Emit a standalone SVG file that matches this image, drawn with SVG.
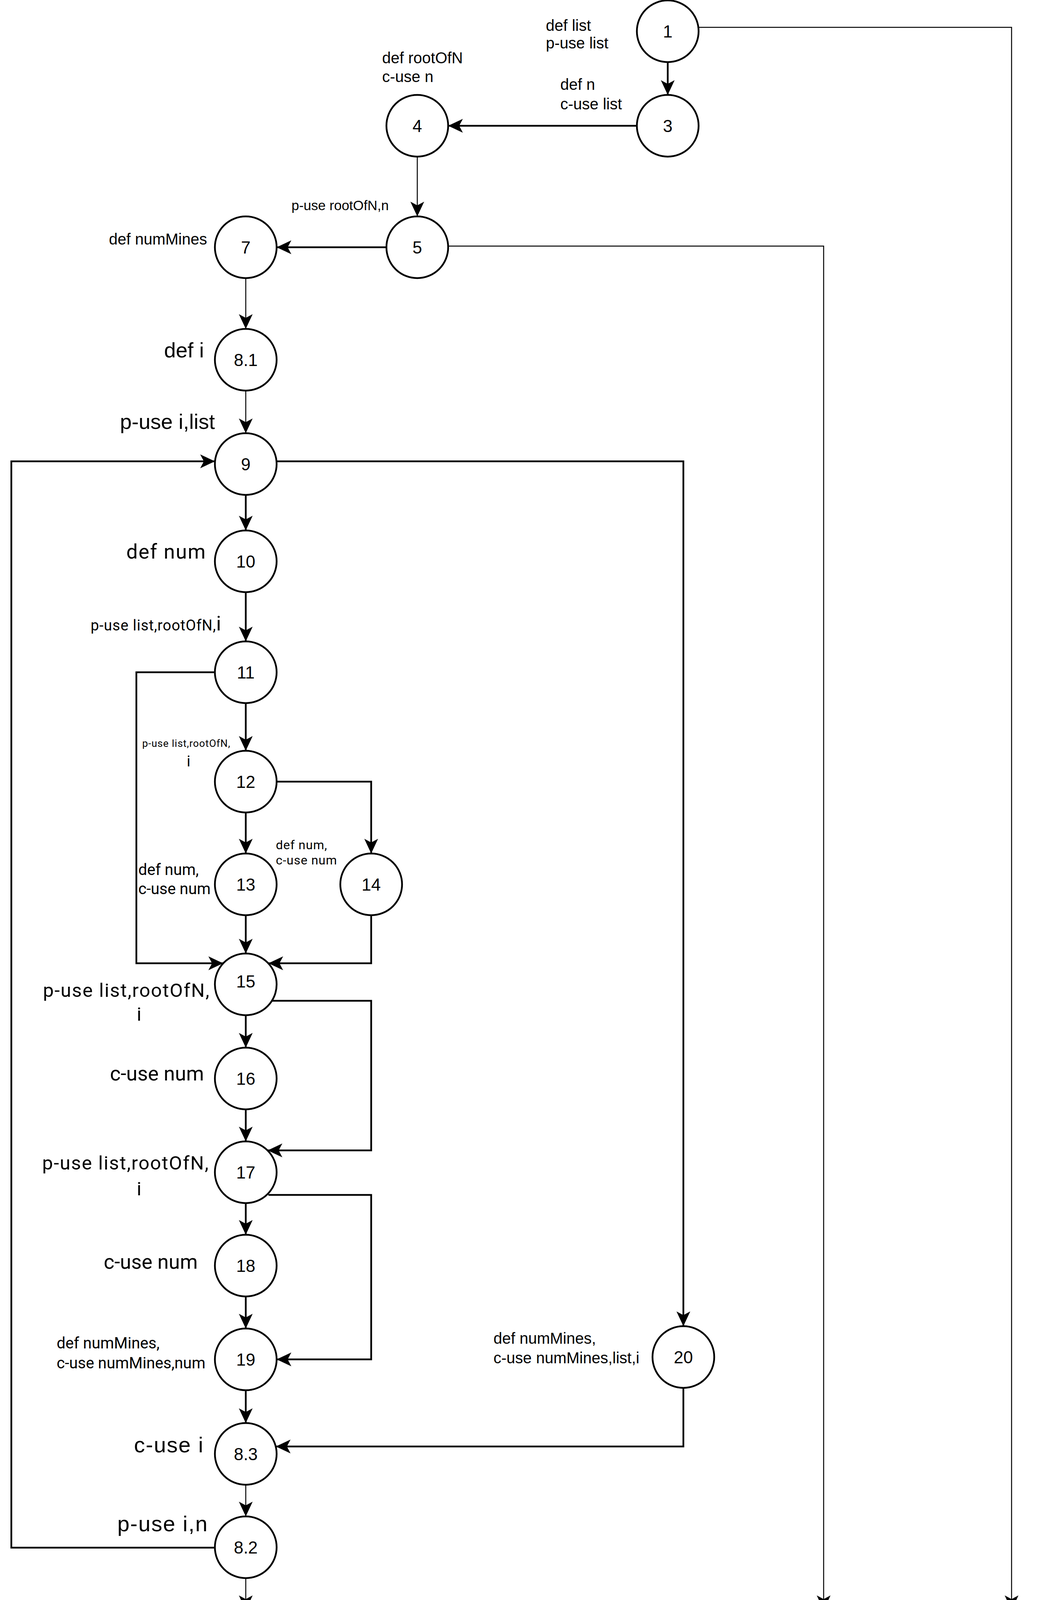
<svg xmlns="http://www.w3.org/2000/svg" width="2672" height="4524" viewBox="0 0 2672 4524">
<style>
.n{fill:#fff;stroke:#000;stroke-width:4.5}
.t{font-family:"Liberation Sans",Arial,sans-serif;font-size:44px;text-anchor:middle;dominant-baseline:central}
.e{fill:none;stroke:#000;stroke-width:4.5}
.th{stroke-width:2.5}
.l{font-family:"Liberation Sans",Arial,sans-serif;font-size:40px}
.r{font-family:Roboto,"Noto Sans",sans-serif}
</style>
<defs>
<marker id="a" markerUnits="userSpaceOnUse" markerWidth="40" markerHeight="40" viewBox="0 0 34 34" refX="32" refY="17" orient="auto">
<path d="M0,2 L32,17 L0,32 L8,17 z" fill="#000"/>
</marker>
</defs>
<rect width="2672" height="4524" fill="#fff"/>
<g id="connectors">
<path class="e" d="M1709,159 V243" marker-end="url(#a)"/>
<path class="e th" d="M1787,70 H2589 V4122" marker-end="url(#a)"/>
<path class="e" d="M1630,322 H1147" marker-end="url(#a)"/>
<path class="e th" d="M1068,401 V554" marker-end="url(#a)"/>
<path class="e" d="M989,633 H708" marker-end="url(#a)"/>
<path class="e th" d="M1147,630 H2108 V4122" marker-end="url(#a)"/>
<path class="e th" d="M629,712 V842" marker-end="url(#a)"/>
<path class="e th" d="M629,1000 V1109" marker-end="url(#a)"/>
<path class="e" d="M629,1267 V1358" marker-end="url(#a)"/>
<path class="e" d="M708,1181 H1749 V3395" marker-end="url(#a)"/>
<path class="e" d="M629,1516 V1642" marker-end="url(#a)"/>
<path class="e" d="M629,1800 V1922" marker-end="url(#a)"/>
<path class="e" d="M550,1721 H349 V2466 H571" marker-end="url(#a)"/>
<path class="e" d="M629,2080 V2185" marker-end="url(#a)"/>
<path class="e" d="M708,2001 H950 V2185" marker-end="url(#a)"/>
<path class="e" d="M629,2343 V2441" marker-end="url(#a)"/>
<path class="e" d="M950,2343 V2466 H687" marker-end="url(#a)"/>
<path class="e" d="M629,2599 V2682" marker-end="url(#a)"/>
<path class="e" d="M686,2562 H950 V2945 H685" marker-end="url(#a)"/>
<path class="e" d="M629,2840 V2922" marker-end="url(#a)"/>
<path class="e" d="M629,3080 V3161" marker-end="url(#a)"/>
<path class="e" d="M687,3059 H950 V3480 H708" marker-end="url(#a)"/>
<path class="e" d="M629,3319 V3401" marker-end="url(#a)"/>
<path class="e" d="M629,3559 V3643" marker-end="url(#a)"/>
<path class="e" d="M1749,3553 V3703 H706" marker-end="url(#a)"/>
<path class="e th" d="M629,3801 V3882" marker-end="url(#a)"/>
<path class="e" d="M550,3962 H29 V1181 H550" marker-end="url(#a)"/>
<path class="e th" d="M629,4040 V4122" marker-end="url(#a)"/>
<path class="e" d="M629,4280 V4441 H1206" marker-end="url(#a)"/>
<path class="e" d="M2029,4201 H1285 V4362" marker-end="url(#a)"/>
<path class="e" d="M2589,4280 V4441 H1364" marker-end="url(#a)"/>
</g>
<g id="n1"><circle class="n" cx="1709" cy="80" r="79"/><text class="t" x="1709" y="80">1</text>
<text class="l" x="1397" y="79">def list</text><text class="l" x="1397" y="124">p-use list</text></g>
<g id="n3"><circle class="n" cx="1709" cy="322" r="79"/><text class="t" x="1709" y="322">3</text>
<text class="l" x="1434" y="230">def n</text><text class="l" x="1434" y="280">c-use list</text></g>
<g id="n4"><circle class="n" cx="1068" cy="322" r="79"/><text class="t" x="1068" y="322">4</text>
<text class="l" x="978" y="162">def rootOfN</text><text class="l" x="978" y="210">c-use n</text></g>
<g id="n5"><circle class="n" cx="1068" cy="633" r="79"/><text class="t" x="1068" y="633">5</text>
<text class="l" x="746" y="538" style="font-size:35px">p-use rootOfN,n</text></g>
<g id="n7"><circle class="n" cx="629" cy="633" r="79"/><text class="t" x="629" y="633">7</text>
<text class="l" x="530" y="626" text-anchor="end">def numMines</text></g>
<g id="n81"><circle class="n" cx="629" cy="921" r="79"/><text class="t" x="629" y="921">8.1</text>
<text class="l" x="522" y="915" text-anchor="end" style="font-size:54px">def i</text></g>
<g id="n9"><circle class="n" cx="629" cy="1188" r="79"/><text class="t" x="629" y="1188">9</text>
<text class="l" x="550" y="1098" text-anchor="end" style="font-size:54px">p-use i,list</text></g>
<g id="n10"><circle class="n" cx="629" cy="1437" r="79"/><text class="t" x="629" y="1437">10</text>
<text class="l r" x="528" y="1430" text-anchor="end" style="font-size:52px;letter-spacing:2px">def num</text></g>
<g id="n11"><circle class="n" cx="629" cy="1721" r="79"/><text class="t" x="629" y="1721">11</text>
<text class="l r" x="232" y="1614" style="font-size:38px;letter-spacing:1px">p-use list,rootOfN,<tspan style="font-size:52px">i</tspan></text></g>
<g id="n12"><circle class="n" cx="629" cy="2001" r="79"/><text class="t" x="629" y="2001">12</text>
<text class="l r" x="364" y="1912" style="font-size:26px;letter-spacing:1px">p-use list,rootOfN,</text>
<text class="l r" x="478" y="1962" style="font-size:38px">i</text></g>
<g id="n13"><circle class="n" cx="629" cy="2264" r="79"/><text class="t" x="629" y="2264">13</text>
<text class="l r" x="354" y="2240" style="font-size:40px">def num,</text><text class="l r" x="354" y="2289" style="font-size:40px">c-use num</text></g>
<g id="n14"><circle class="n" cx="950" cy="2264" r="79"/><text class="t" x="950" y="2264">14</text>
<text class="l r" x="706" y="2174" style="font-size:32px;letter-spacing:1px">def num,</text><text class="l r" x="706" y="2213" style="font-size:32px;letter-spacing:1px">c-use num</text></g>
<g id="n15"><circle class="n" cx="629" cy="2520" r="79"/><text class="t" x="629" y="2512">15</text>
<text class="l r" x="110" y="2552" style="font-size:49px;letter-spacing:2px">p-use list,rootOfN,</text>
<text class="l r" x="350" y="2613" style="font-size:49px">i</text></g>
<g id="n16"><circle class="n" cx="629" cy="2761" r="79"/><text class="t" x="629" y="2761">16</text>
<text class="l r" x="522" y="2766" text-anchor="end" style="font-size:52px">c-use num</text></g>
<g id="n17"><circle class="n" cx="629" cy="3001" r="79"/><text class="t" x="629" y="3001">17</text>
<text class="l r" x="108" y="2994" style="font-size:49px;letter-spacing:2px">p-use list,rootOfN,</text>
<text class="l r" x="350" y="3060" style="font-size:49px">i</text></g>
<g id="n18"><circle class="n" cx="629" cy="3240" r="79"/><text class="t" x="629" y="3240">18</text>
<text class="l r" x="506" y="3248" text-anchor="end" style="font-size:52px">c-use num</text></g>
<g id="n19"><circle class="n" cx="629" cy="3480" r="79"/><text class="t" x="629" y="3480">19</text>
<text class="l r" x="145" y="3452" style="font-size:40px">def numMines,</text><text class="l r" x="145" y="3503" style="font-size:40px">c-use numMines,num</text></g>
<g id="n20"><circle class="n" cx="1749" cy="3474" r="79"/><text class="t" x="1749" y="3474">20</text>
<text class="l" x="1263" y="3440">def numMines,</text><text class="l" x="1263" y="3490">c-use numMines,list,i</text></g>
<g id="n83"><circle class="n" cx="629" cy="3722" r="79"/><text class="t" x="629" y="3722">8.3</text>
<text class="l" x="522" y="3718" text-anchor="end" style="font-size:56px;letter-spacing:2px">c-use i</text></g>
<g id="n82"><circle class="n" cx="629" cy="3961" r="79"/><text class="t" x="629" y="3961">8.2</text>
<text class="l" x="533" y="3920" text-anchor="end" style="font-size:56px;letter-spacing:2px">p-use i,n</text></g>
<g id="n21"><circle class="n" cx="629" cy="4201" r="79"/><text class="t" x="629" y="4201">21</text>
<text class="l" x="520" y="4210" text-anchor="end" style="font-size:36px">c-use numMines</text></g>
<g id="n6"><circle class="n" cx="2108" cy="4201" r="79"/><text class="t" x="2108" y="4201">6</text></g>
<g id="n2"><circle class="n" cx="2589" cy="4201" r="79"/><text class="t" x="2589" y="4201">2</text></g>
<g id="n22"><circle class="n" cx="1285" cy="4441" r="79"/><text class="t" x="1285" y="4441">22</text></g>
</svg>
